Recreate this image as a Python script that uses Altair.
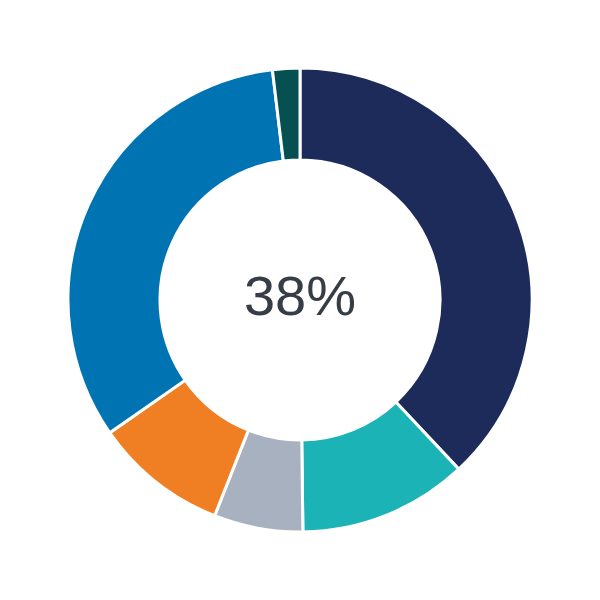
import altair as alt
import pandas as pd

categories = ["A", "B", "C", "D", "E", "F"]
values = [38.0, 11.8, 6.2, 9.3, 32.8, 1.9]
colors = ["#1c2b5a", "#1cb3b6", "#a7b1bf", "#f07e22", "#0074b3", "#065052"]
center_label = ["38%"]

df = pd.DataFrame({"cat": categories, "value": values, "idx": list(range(len(categories)))})

arc = alt.Chart(df).mark_arc(outerRadius=232, innerRadius=140, stroke="white", strokeWidth=3).encode(
    theta=alt.Theta("value:Q", stack=True),
    color=alt.Color("cat:N", scale=alt.Scale(domain=categories, range=colors), legend=None),
    order=alt.Order("idx:Q"),
)

text = alt.Chart(pd.DataFrame({"label": center_label})).mark_text(
    fontSize=56, font="Liberation Sans", color="#363d46", baseline="middle", align="center"
).encode(text="label:N", x=alt.value(292), y=alt.value(290))

chart = (arc + text).properties(width=584, height=584, padding=0).configure_view(stroke=None)

chart.save("out.html", embed_options={"renderer": "svg", "actions": False})
